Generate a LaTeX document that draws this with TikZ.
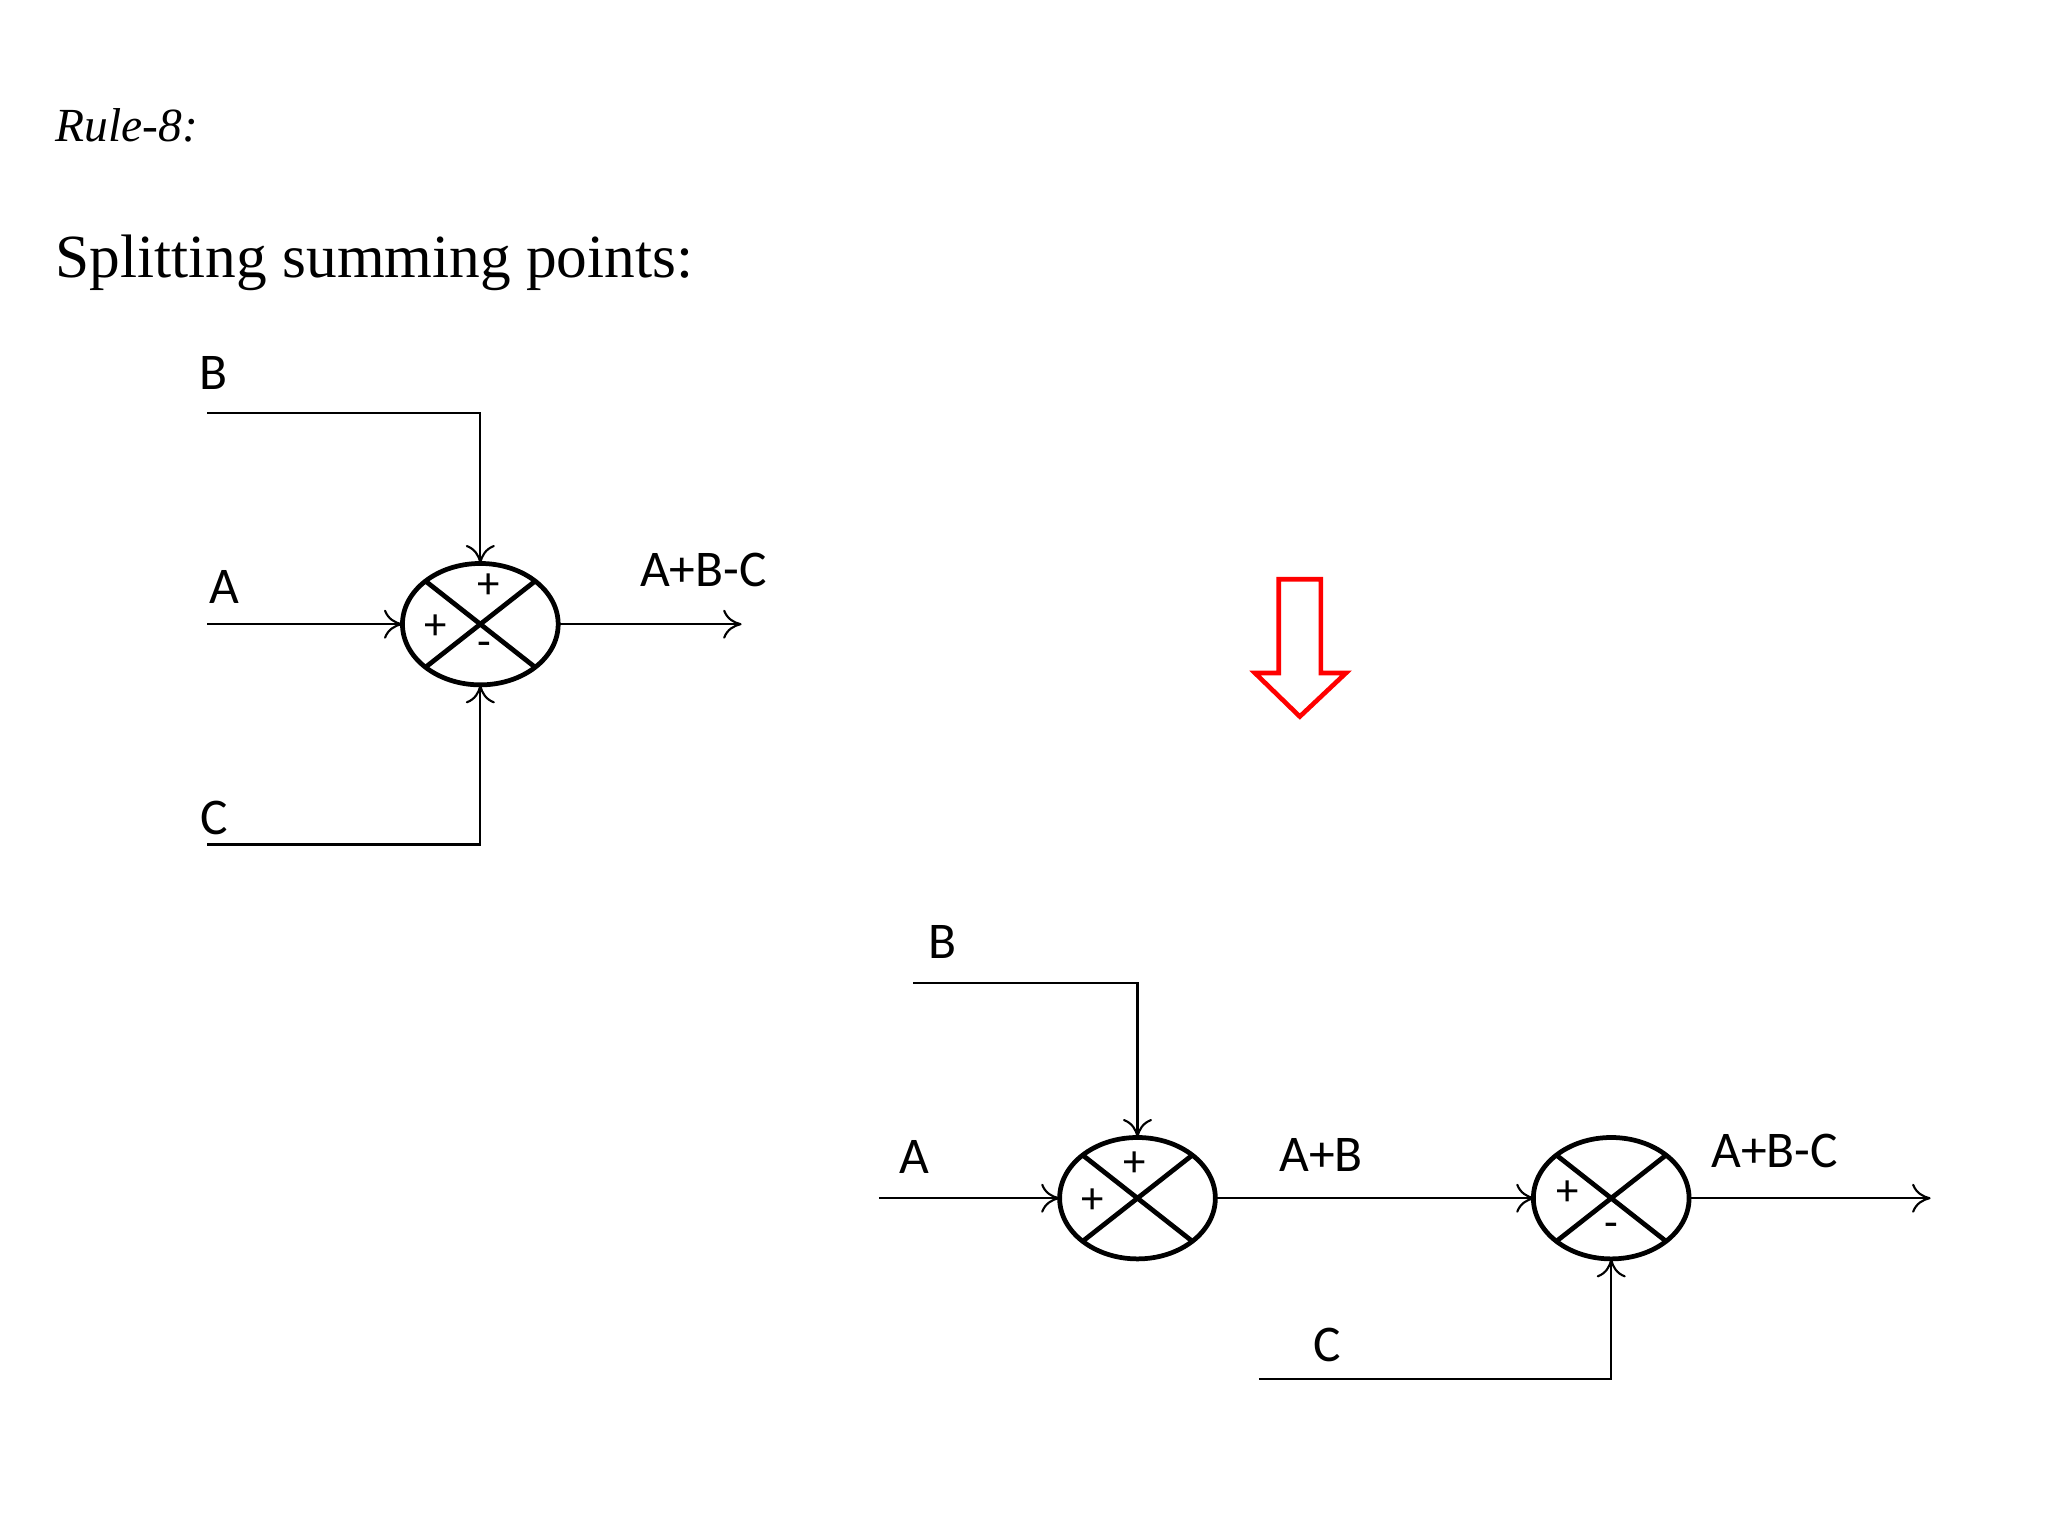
\documentclass[tikz,border=0pt]{standalone}
\usepackage{fontspec}
\setmainfont{Liberation Serif}
\newfontfamily\lab{Carlito}
\usetikzlibrary{arrows.meta,calc}
\begin{document}
\begin{tikzpicture}[x=1pt,y=-1pt,
  wire/.style={line width=1.6pt},
  arr/.style={wire,-{To[length=14pt,width=22pt]}},
  lbl/.style={font=\lab\fontsize{39}{42}\selectfont,inner sep=0},
  sgn/.style={font=\lab\fontsize{34}{36}\selectfont,inner sep=0}]
\useasboundingbox (0,0) rectangle (1552,1164);
\node[anchor=base west,inner sep=0,font=\itshape\fontsize{36}{40}\selectfont] (rule) at (42,107) {Rule-8:};
\node[anchor=base west,inner sep=0,font=\fontsize{46.5}{52}\selectfont] (title) at (42,210) {Splitting summing points:};
% left
\coordinate (S) at (364,473);
\draw[line width=3.6pt] (S) ellipse [x radius=59,y radius=46];
\draw[line width=3.6pt] ($(S)+(-42,-33)$) -- ($(S)+(42,33)$) ($(S)+(-42,33)$) -- ($(S)+(42,-33)$);
\coordinate (St) at (364,427); \coordinate (Sb) at (364,519);
\coordinate (Sl) at (305,473); \coordinate (Sr) at (423,473);
\node[sgn] (s1) at (370,444) {+};
\node[sgn] (s2) at (330,475) {+};
\node[sgn] (s3) at (367,492) {-};
\node[lbl] (lB) at (162,283) {B};
\node[lbl] (lA) at (170,445) {A};
\node[lbl] (lC) at (162,620) {C};
\node[lbl] (lO) at (533,432) {A+B-C};
\coordinate (b0) at (157,313); \coordinate (a0) at (157,473); \coordinate (c0) at (157,640);
\coordinate (o0) at (562,473);
\draw[arr] (b0) -| (St);
\draw[arr] (a0) -- (Sl);
\draw[arr] (c0) -| (Sb);
\draw[arr] (Sr) -- (o0);
% red arrow
\draw[red,line width=3.5pt] (969,439) -- (1001,439) -- (1001,510) -- (1020,510) -- (985,543) -- (951,510) -- (969,510) -- cycle;
% right
\coordinate (P) at (862,908); \coordinate (Q) at (1221,908);
\foreach \c in {P,Q}{
\draw[line width=3.6pt] (\c) ellipse [x radius=59,y radius=46];
\draw[line width=3.6pt] ($(\c)+(-42,-33)$) -- ($(\c)+(42,33)$) ($(\c)+(-42,33)$) -- ($(\c)+(42,-33)$);}
\node[sgn] (p1) at (860,882) {+};
\node[sgn] (p2) at (828,910) {+};
\node[sgn] (q1) at (1188,904) {+};
\node[sgn] (q2) at (1221,932) {-};
\node[lbl] (rB) at (714,714) {B};
\node[lbl] (rA) at (693,877) {A};
\node[lbl] (rAB) at (1001,875) {A+B};
\node[lbl] (rC) at (1006,1019) {C};
\node[lbl] (rO) at (1345,872) {A+B-C};
\coordinate (rb0) at (692,745); \coordinate (ra0) at (666,908);
\coordinate (rc0) at (954,1045); \coordinate (ro0) at (1463,908);
\draw[arr] (rb0) -| (862,862);
\draw[arr] (ra0) -- (803,908);
\draw[arr] (921,908) -- (1163,908);
\draw[arr] (rc0) -| (1221,954);
\draw[arr] (1280,908) -- (ro0);
\end{tikzpicture}
\end{document}
